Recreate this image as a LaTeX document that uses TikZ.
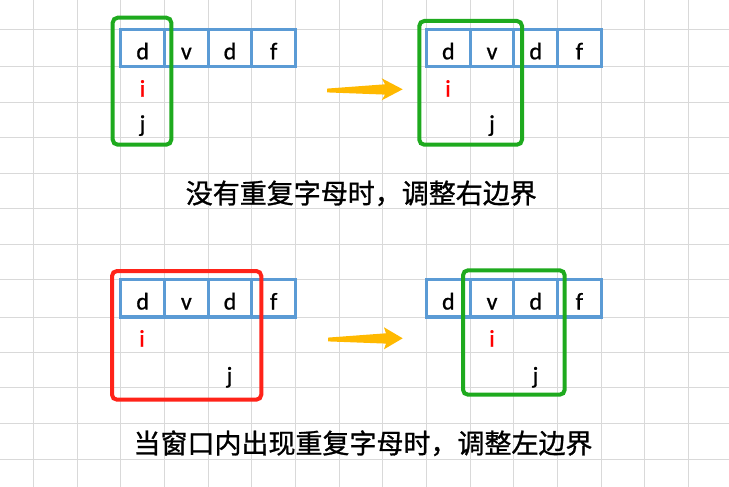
\documentclass[tikz,border=0pt]{standalone}
\usepackage{fontspec}
\setmainfont{Carlito}
\newfontfamily\lat[FakeBold=0.8]{Carlito}
\newfontfamily\cjk[FakeBold=1.0]{Noto Sans CJK SC}
\definecolor{gridgray}{RGB}{217,217,217}
\definecolor{cellblue}{RGB}{91,155,213}
\definecolor{boxgreen}{RGB}{30,170,30}
\definecolor{boxred}{RGB}{255,35,25}
\definecolor{arrowgold}{RGB}{255,185,0}
\begin{document}
\begin{tikzpicture}[x=1pt,y=-1pt,
  gridline/.style={draw=gridgray,line width=1pt},
  cell/.style={draw=cellblue,line width=3.2pt,fill=white,minimum width=43.67pt,minimum height=37.4pt,
    inner sep=0pt,text height=22.6pt,text depth=0pt,font=\lat\fontsize{24}{24}\selectfont},
  ptr/.style={anchor=base,inner sep=0pt,font=\lat\fontsize{24}{24}\selectfont},
  winbox/.style={line width=4pt,rounded corners=5pt},
  gold/.style={fill=arrowgold,draw=none},
  caption/.style={inner sep=0pt,font=\cjk\fontsize{27}{27}\selectfont}]
\useasboundingbox[fill=white] (0,0) rectangle (729,487);
% grid
\foreach \k in {0,...,15} {\draw[gridline] ({33.5+43.67*\k},0) -- ({33.5+43.67*\k},487);}
\foreach \y in {29.3,66.7,102.3,137.3,173,208.7,244,279.3,317,352.3,387.7,423.3,459} {\draw[gridline] (0,\y) -- (729,\y);}
% top-left
\node[cell] (a1) at (142.67,48) {d};
\node[cell] (a2) at (186.34,48) {v};
\node[cell] (a3) at (230.01,48) {d};
\node[cell] (a4) at (273.68,48) {f};
\node[ptr,text=red] (ai) at (142.5,96.7) {i};
\node[ptr] (aj) at (142.5,131.8) {j};
\draw[winbox,draw=boxgreen] (112.7,17.7) rectangle (171.3,144.7);
% top arrow
\path[gold] (327,88.6) -- (385,84.3) -- (381.7,78.3) -- (402.7,89.3) -- (381.7,100.3) -- (385,94.6) -- (327,92.4) -- cycle;
% top-right
\node[cell] (b1) at (448.36,48) {d};
\node[cell] (b2) at (492.03,48) {v};
\node[cell] (b3) at (535.70,48) {d};
\node[cell] (b4) at (579.37,48) {f};
\node[ptr,text=red] (bi) at (448,96.7) {i};
\node[ptr] (bj) at (492,131.8) {j};
\draw[winbox,draw=boxgreen] (419.3,21) rectangle (522,144.7);
% caption 1
\node[caption] (c1) at (361.3,193.3) {没有重复字母时，调整右边界};
% bottom-left
\node[cell] (d1) at (142.67,298.2) {d};
\node[cell] (d2) at (186.34,298.2) {v};
\node[cell] (d3) at (230.01,298.2) {d};
\node[cell] (d4) at (273.68,298.2) {f};
\node[ptr,text=red] (di) at (142,346.7) {i};
\node[ptr] (dj) at (229.5,383.5) {j};
\draw[winbox,draw=boxred] (112,271) rectangle (261.3,399.7);
% bottom arrow
\path[gold,yshift=-249pt] (328,88.6) -- (386,84.3) -- (384,78.3) -- (402.7,89.3) -- (384,100.3) -- (386,94.6) -- (328,92.4) -- cycle;
% bottom-right
\node[cell] (e1) at (448.36,298.2) {d};
\node[cell] (e2) at (492.03,298.2) {v};
\node[cell] (e3) at (535.70,298.2) {d};
\node[cell] (e4) at (579.37,298.2) {f};
\node[ptr,text=red] (ei) at (492,346.7) {i};
\node[ptr] (ej) at (535.5,383.5) {j};
\draw[winbox,draw=boxgreen] (463,270.3) rectangle (564.7,394.7);
% caption 2
\node[caption] (c2) at (363,443.3) {当窗口内出现重复字母时，调整左边界};
\end{tikzpicture}
\end{document}
